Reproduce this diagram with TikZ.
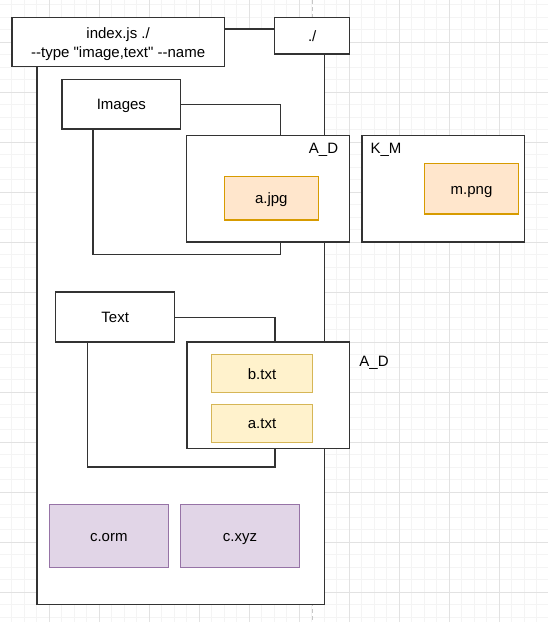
\documentclass[tikz,border=0pt]{standalone}
\usepackage{fontspec}
\setmainfont{Liberation Sans}[Ligatures=TeXOff]

\definecolor{orangefill}{HTML}{FFE6CC}
\definecolor{orangeline}{HTML}{D79B00}
\definecolor{yellowfill}{HTML}{FFF2CC}
\definecolor{yellowline}{HTML}{D6B656}
\definecolor{purplefill}{HTML}{E1D5E7}
\definecolor{purpleline}{HTML}{9673A6}
\definecolor{gridminor}{HTML}{F4F4F4}
\definecolor{gridmajor}{HTML}{E2E2E2}

\tikzset{
  box/.style={draw=black!80, line width=1.2pt, fill=white, inner sep=0pt, outer sep=0pt,
    font=\fontsize{15}{18}\selectfont, text height=12pt, text depth=1pt},
  jpgbox/.style={box, draw=orangeline, fill=orangefill},
  txtbox/.style={box, draw=yellowline, fill=yellowfill},
  otherbox/.style={box, draw=purpleline, fill=purplefill},
  lbl/.style={inner sep=0pt, font=\fontsize{15}{18}\selectfont},
  pagebreak/.style={gray!45, line width=1pt, dash pattern=on 4pt off 3pt}
}

\begin{document}
\begin{tikzpicture}[x=1pt, y=-1pt]

\useasboundingbox (0, 0) rectangle (548, 622);
\fill[white] (0, 0) rectangle (548, 622);

% grid
\foreach \x in {11.8, 24.3, ..., 548} \draw[gridminor, line width=0.8pt] (\x, 0) -- (\x, 622);
\foreach \y in {4.8, 17.3, ..., 622} \draw[gridminor, line width=0.8pt] (0, \y) -- (548, \y);
\foreach \x in {49.3, 99.3, ..., 548} \draw[gridmajor, line width=0.8pt] (\x, 0) -- (\x, 622);
\foreach \y in {42.3, 92.3, ..., 622} \draw[gridmajor, line width=0.8pt] (0, \y) -- (548, \y);

\draw[pagebreak] (312, 0) -- (312, 622);

% root folder
\node[box, minimum width=287.5pt, minimum height=575.3pt] (root) at (180.75, 316.65) {};
\node[box, align=center, text height=, text depth=, minimum width=212.3pt, minimum height=49.4pt] (index) at (118.15, 42) {\rule{0pt}{16pt}index.js ./\\[1pt]--type "image,text" --name};
\node[box, minimum width=75pt, minimum height=36.7pt] (dot) at (312.2, 35.65) {./};

% images
\node[box, minimum width=187.7pt, minimum height=149.6pt] (imgloop) at (186.85, 179.5) {};
\node[box, minimum width=118.7pt, minimum height=49.3pt] (images) at (121.35, 104.35) {Images};
\node[box, minimum width=163pt, minimum height=106.7pt] (adimg) at (268.2, 188.65) {};
\node[lbl, anchor=base] (adimglbl) at (323.5, 153.3) {A\_D};
\node[jpgbox, minimum width=94pt, minimum height=43.7pt] (ajpg) at (271.3, 198.15) {a.jpg};

\node[box, minimum width=162.7pt, minimum height=106.7pt] (km) at (443.35, 188.65) {};
\node[lbl, anchor=base] (kmlbl) at (386, 153.3) {K\_M};
\node[jpgbox, minimum width=94.4pt, minimum height=50.7pt] (mpng) at (471.5, 188.65) {m.png};

% text
\node[box, minimum width=187.7pt, minimum height=149.7pt] (txtloop) at (181.15, 392.15) {};
\node[box, minimum width=119pt, minimum height=50pt] (text) at (115.2, 317) {Text};
\node[box, minimum width=162.7pt, minimum height=106.3pt] (adtxt) at (268.35, 395.15) {};
\node[lbl, anchor=base] (adtxtlbl) at (374, 366.7) {A\_D};
\node[txtbox, minimum width=100.6pt, minimum height=37.6pt] (btxt) at (262, 373.5) {b.txt};
\node[txtbox, minimum width=100.6pt, minimum height=38pt] (atxt) at (262, 423.3) {a.txt};

% others
\node[otherbox, minimum width=119pt, minimum height=63pt] (corm) at (108.8, 535.8) {c.orm};
\node[otherbox, minimum width=119.4pt, minimum height=63pt] (cxyz) at (240, 535.8) {c.xyz};

\end{tikzpicture}
\end{document}
